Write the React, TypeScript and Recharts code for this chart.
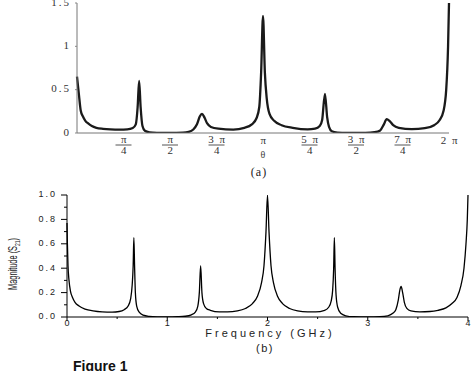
import React from 'react';
import { LineChart, Line, XAxis, YAxis } from 'recharts';

// (a) magnitude vs theta, theta stored in units of pi
const thetaPi = [
  0, 0.01, 0.02, 0.032, 0.045, 0.06, 0.08, 0.104, 0.14, 0.18, 0.23, 0.27, 0.3, 0.316, 0.326, 0.334,
  0.342, 0.352, 0.365, 0.39, 0.43, 0.5, 0.57, 0.6, 0.625, 0.645, 0.66, 0.672, 0.685, 0.7, 0.72, 0.76,
  0.84, 0.9, 0.94, 0.965, 0.98, 0.99, 1.0, 1.01, 1.02, 1.035, 1.06, 1.1, 1.16, 1.24, 1.28, 1.305,
  1.318, 1.333, 1.345, 1.355, 1.37, 1.4, 1.45, 1.55, 1.6, 1.63, 1.65, 1.665, 1.68, 1.7, 1.73, 1.8,
  1.87, 1.92, 1.95, 1.97, 1.985, 1.995, 2.0,
];
const magA = [
  0.65, 0.45, 0.26, 0.19, 0.14, 0.11, 0.08, 0.06, 0.048, 0.042, 0.04, 0.043, 0.058, 0.1, 0.3, 0.6,
  0.3, 0.08, 0.025, 0.008, 0.002, 0, 0.003, 0.012, 0.04, 0.1, 0.19, 0.22, 0.18, 0.11, 0.07, 0.05,
  0.04, 0.06, 0.1, 0.17, 0.3, 0.7, 1.35, 0.7, 0.4, 0.22, 0.14, 0.09, 0.06, 0.042, 0.05, 0.08,
  0.15, 0.45, 0.18, 0.07, 0.02, 0.005, 0, 0.002, 0.01, 0.03, 0.1, 0.16, 0.14, 0.09, 0.06, 0.045,
  0.055, 0.09, 0.15, 0.25, 0.5, 1.0, 1.5,
];
const ticksA = [0.25, 0.5, 0.75, 1, 1.25, 1.5, 1.75, 2];
const numerA = ['π', 'π', '3 π', 'π', '5 π', '3 π', '7 π', '2 π'];
const denomA = ['4', '2', '4', '', '4', '2', '4', ''];
const yTicksA = [0, 0.5, 1, 1.5];
const yLabelsA = ['0', '0.5', '1', '1.5'];

// (b) magnitude S21 vs frequency (GHz)
const freq = [
  0, 0.004, 0.01, 0.02, 0.035, 0.055, 0.08, 0.12, 0.18, 0.26, 0.35, 0.45, 0.52, 0.57, 0.61, 0.635,
  0.65, 0.66, 0.667, 0.674, 0.682, 0.695, 0.72, 0.76, 0.82, 0.9, 1.0, 1.1, 1.18, 1.24, 1.28, 1.305,
  1.32, 1.333, 1.346, 1.362, 1.39, 1.43, 1.52, 1.6, 1.7, 1.78, 1.85, 1.9, 1.94, 1.965, 1.985, 2.0,
  2.015, 2.035, 2.06, 2.1, 2.15, 2.22, 2.3, 2.4, 2.48, 2.57, 2.61, 2.635, 2.65, 2.66, 2.667, 2.674,
  2.684, 2.7, 2.73, 2.78, 2.86, 3.0, 3.12, 3.2, 3.25, 3.28, 3.305, 3.32, 3.333, 3.348, 3.365, 3.39,
  3.43, 3.52, 3.62, 3.7, 3.78, 3.84, 3.89, 3.93, 3.96, 3.98, 3.993, 4.0,
];
const magB = [
  0.77, 0.6, 0.42, 0.3, 0.21, 0.16, 0.12, 0.09, 0.065, 0.05, 0.042, 0.04, 0.045, 0.06, 0.09, 0.15,
  0.26, 0.42, 0.65, 0.42, 0.2, 0.09, 0.04, 0.015, 0.005, 0.001, 0, 0.002, 0.006, 0.018, 0.04, 0.09,
  0.2, 0.42, 0.2, 0.11, 0.07, 0.055, 0.042, 0.042, 0.05, 0.07, 0.11, 0.17, 0.28, 0.42, 0.7, 1.0,
  0.7, 0.42, 0.28, 0.17, 0.11, 0.07, 0.05, 0.042, 0.042, 0.055, 0.08, 0.13, 0.22, 0.4, 0.65, 0.4,
  0.18, 0.08, 0.03, 0.01, 0.002, 0, 0.002, 0.01, 0.03, 0.06, 0.14, 0.22, 0.25, 0.2, 0.12, 0.07,
  0.05, 0.042, 0.045, 0.055, 0.075, 0.11, 0.16, 0.26, 0.4, 0.6, 0.8, 1.0,
];
const xTicksB = [0, 0.5, 1, 1.5, 2, 2.5, 3, 3.5, 4];
const yTicksB = [0, 0.1, 0.2, 0.3, 0.4, 0.5, 0.6, 0.7, 0.8, 0.9, 1.0];

const dataA = thetaPi.map((t, i) => ({ t, v: magA[i] }));
const dataB = freq.map((f, i) => ({ f, v: magB[i] }));

const serif = '"Liberation Serif", "DejaVu Serif", serif';
const sans = '"Liberation Sans", Arial, sans-serif';

function TopXTick(props: any) {
  const { x, y, payload } = props;
  const i = ticksA.indexOf(payload.value);
  if (i < 0) return null;
  const st = { fontFamily: serif, fontSize: 11, fill: '#333', letterSpacing: 1.5 };
  if (!denomA[i]) {
    return (
      <text x={x + 1} y={y + 8} textAnchor="middle" dominantBaseline="middle" style={st}>
        {numerA[i]}
      </text>
    );
  }
  return (
    <g>
      <text x={x + 1} y={y + 7} textAnchor="middle" dominantBaseline="middle" style={st}>
        {numerA[i]}
      </text>
      <line x1={x - 8} x2={x + 8} y1={y + 12} y2={y + 12} stroke="#555" strokeWidth={1} />
      <text x={x + 1} y={y + 18} textAnchor="middle" dominantBaseline="middle" style={st}>
        {denomA[i]}
      </text>
    </g>
  );
}

function TopYTick(props: any) {
  const { x, y, payload } = props;
  const i = yTicksA.indexOf(payload.value);
  return (
    <g>
      <line x1={x - 2} x2={x} y1={y} y2={y} stroke="#888" strokeWidth={1} />
      <text
        x={x - 6}
        y={y}
        textAnchor="end"
        dominantBaseline="middle"
        style={{ fontFamily: serif, fontSize: 11, fill: '#333', letterSpacing: 2 }}
      >
        {yLabelsA[i]}
      </text>
    </g>
  );
}

function BottomXTick(props: any) {
  const { x, y, payload } = props;
  const major = Number.isInteger(payload.value);
  return (
    <g>
      <line x1={x} x2={x} y1={y} y2={y + (major ? 4 : 2)} stroke="#000" strokeWidth={1} />
      {major && (
        <text
          x={x}
          y={y + 7}
          textAnchor="middle"
          dominantBaseline="middle"
          style={{ fontFamily: sans, fontSize: 9, fill: '#222' }}
        >
          {payload.value}
        </text>
      )}
    </g>
  );
}

function BottomYTick(props: any) {
  const { x, y, payload } = props;
  const k = Math.round(payload.value * 10);
  const major = k % 2 === 0;
  return (
    <g>
      <line x1={x - (major ? 6 : 3)} x2={x} y1={y} y2={y} stroke="#000" strokeWidth={1} />
      {major && (
        <text
          x={x - 10}
          y={y}
          textAnchor="end"
          dominantBaseline="middle"
          style={{ fontFamily: sans, fontSize: 9, fill: '#222', letterSpacing: 2 }}
        >
          {(k / 10).toFixed(1)}
        </text>
      )}
    </g>
  );
}

export default function App() {
  return (
    <div style={{ position: 'absolute', left: 0, top: 0, width: 474, height: 371, background: '#fff' }}>
      <div style={{ position: 'absolute', left: 0, top: 0 }}>
        <LineChart width={474} height={190} data={dataA} margin={{ top: 3, right: 25, bottom: 0, left: 0 }}>
          <XAxis
            dataKey="t"
            type="number"
            domain={[0, 2]}
            ticks={ticksA}
            interval={0}
            tickSize={0}
            tickMargin={0}
            tickLine={false}
            height={57}
            stroke="#777"
            tick={<TopXTick />}
          />
          <YAxis
            type="number"
            domain={[0, 1.5]}
            ticks={yTicksA}
            interval={0}
            tickSize={0}
            tickMargin={0}
            tickLine={false}
            width={77}
            stroke="#777"
            allowDataOverflow
            tick={<TopYTick />}
          />
          <Line
            dataKey="v"
            type="monotone"
            stroke="#1a1a1a"
            strokeWidth={2.3}
            dot={false}
            isAnimationActive={false}
          />
        </LineChart>
      </div>
      <div style={{ position: 'absolute', left: 0, top: 180 }}>
        <LineChart width={474} height={191} data={dataB} margin={{ top: 15, right: 6, bottom: 0, left: 0 }}>
          <XAxis
            dataKey="f"
            type="number"
            domain={[0, 4]}
            ticks={xTicksB}
            interval={0}
            tickSize={0}
            tickMargin={0}
            tickLine={false}
            height={54}
            stroke="#000"
            tick={<BottomXTick />}
          />
          <YAxis
            type="number"
            domain={[0, 1]}
            ticks={yTicksB}
            interval={0}
            tickSize={0}
            tickMargin={0}
            tickLine={false}
            width={67}
            stroke="#000"
            allowDataOverflow
            tick={<BottomYTick />}
          />
          <Line
            dataKey="v"
            type="monotone"
            stroke="#000"
            strokeWidth={1.3}
            dot={false}
            isAnimationActive={false}
          />
        </LineChart>
      </div>
      <svg width={474} height={371} style={{ position: 'absolute', left: 0, top: 0, pointerEvents: 'none' }}>
        <text x={263} y={156} textAnchor="middle" dominantBaseline="middle" style={{ fontFamily: serif, fontSize: 10, fill: '#444' }}>
          θ
        </text>
        <text x={259} y={173} textAnchor="middle" dominantBaseline="middle" style={{ fontFamily: serif, fontSize: 12, fill: '#222', letterSpacing: 1 }}>
          (a)
        </text>
        <text x={270} y={334} textAnchor="middle" dominantBaseline="middle" style={{ fontFamily: sans, fontSize: 11, fill: '#222', letterSpacing: 3 }}>
          Frequency (GHz)
        </text>
        <text x={265} y={349} textAnchor="middle" dominantBaseline="middle" style={{ fontFamily: sans, fontSize: 11, fill: '#222', letterSpacing: 1.5 }}>
          (b)
        </text>
        <text
          transform="translate(17 264) rotate(-90)"
          textAnchor="middle"
          textLength={52}
          lengthAdjust="spacingAndGlyphs"
          style={{ fontFamily: sans, fontSize: 12, fill: '#222' }}
        >
          Magnitude (S
          <tspan fontSize={8} dy={3}>21</tspan>
          <tspan dy={-3}>)</tspan>
        </text>
        <text x={73} y={371} style={{ fontFamily: sans, fontSize: 14, fontWeight: 'bold', fill: '#111' }}>
          Figure 1
        </text>
      </svg>
    </div>
  );
}
